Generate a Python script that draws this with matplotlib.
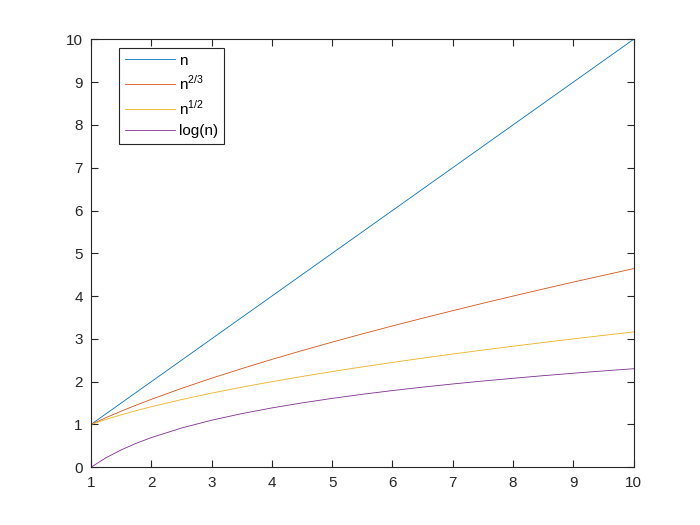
import matplotlib
matplotlib.use("Agg")
import matplotlib.pyplot as plt

plt.rcParams['font.family'] = ['Liberation Sans', 'DejaVu Sans']
plt.rcParams['mathtext.fontset'] = 'custom'
plt.rcParams['mathtext.rm'] = 'Liberation Sans'

n_vals = [1, 1.25, 1.5, 1.75, 2, 2.5, 3, 3.5, 4, 4.5, 5, 5.5, 6, 6.5, 7, 7.5, 8, 8.5, 9, 9.5, 10]
lin = [1, 1.25, 1.5, 1.75, 2, 2.5, 3, 3.5, 4, 4.5, 5, 5.5, 6, 6.5, 7, 7.5, 8, 8.5, 9, 9.5, 10]
two_thirds = [1.0, 1.160, 1.310, 1.452, 1.587, 1.842, 2.080, 2.305, 2.520, 2.726, 2.924,
              3.116, 3.302, 3.483, 3.659, 3.832, 4.000, 4.165, 4.327, 4.484, 4.642]
half = [1.0, 1.118, 1.225, 1.323, 1.414, 1.581, 1.732, 1.871, 2.000, 2.121, 2.236,
        2.345, 2.449, 2.550, 2.646, 2.739, 2.828, 2.915, 3.000, 3.082, 3.162]
logn = [0.0, 0.223, 0.405, 0.560, 0.693, 0.916, 1.099, 1.253, 1.386, 1.504, 1.609,
        1.705, 1.792, 1.872, 1.946, 2.015, 2.079, 2.140, 2.197, 2.251, 2.303]

labels = ['n', r'n$^{\mathrm{2/3}}$', r'n$^{\mathrm{1/2}}$', 'log(n)']
colors = ['#0072BD', '#D95319', '#EDB120', '#7E2F8E']
x_ticks = [1, 2, 3, 4, 5, 6, 7, 8, 9, 10]
y_ticks = [0, 1, 2, 3, 4, 5, 6, 7, 8, 9, 10]

fig = plt.figure(figsize=(7, 5.25), dpi=100)
ax = fig.add_axes([0.13, 0.11, 0.775, 0.815])

for ys, lab, c in zip([lin, two_thirds, half, logn], labels, colors):
    ax.plot(n_vals, ys, color=c, lw=0.6, label=lab)

ax.set_xlim(1, 10)
ax.set_ylim(0, 10)
ax.set_xticks(x_ticks)
ax.set_yticks(y_ticks)
ax.tick_params(direction='in', length=5, width=0.8, colors='#262626',
               labelsize=11, top=True, right=True, pad=6)
for s in ax.spines.values():
    s.set_color('#262626')
    s.set_linewidth(0.8)

leg = ax.legend(loc='upper left', bbox_to_anchor=(0.17, 0.9086),
                bbox_transform=fig.transFigure, borderaxespad=0,
                fontsize=11, handlelength=3.3, handletextpad=0.26,
                labelspacing=0.42, borderpad=0.38, fancybox=False,
                edgecolor='#262626', framealpha=1)
leg.get_frame().set_linewidth(0.8)
for t in leg.get_texts():
    t.set_color('#000000')

fig.savefig('out.png', dpi=100)
